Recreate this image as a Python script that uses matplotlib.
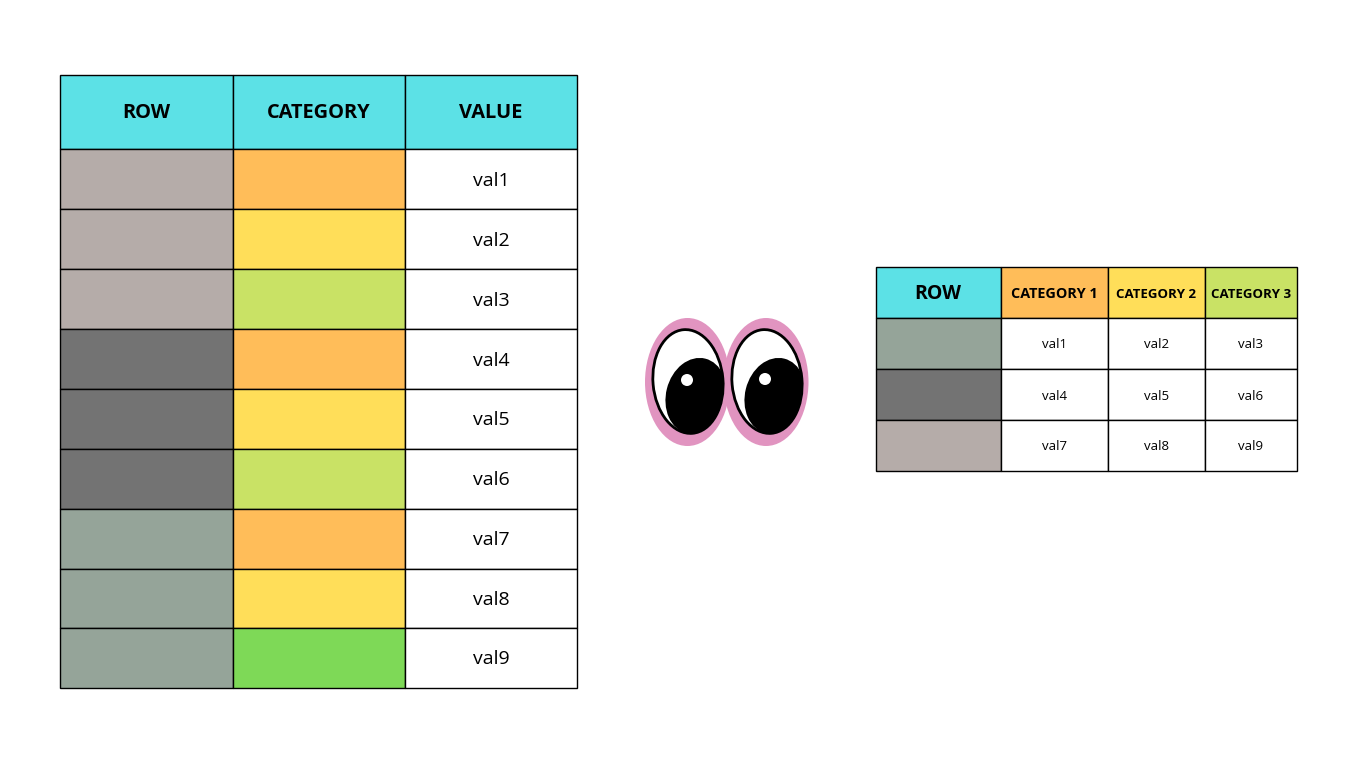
import matplotlib
matplotlib.use("Agg")
import matplotlib.pyplot as plt
from matplotlib.patches import Rectangle, Ellipse

# long table content
long_headers = ["ROW", "CATEGORY", "VALUE"]
long_row_groups = ["c", "c", "c", "b", "b", "b", "a", "a", "a"]
long_categories = ["cat1", "cat2", "cat3", "cat1", "cat2", "cat3", "cat1", "cat2", "cat3b"]
long_values = ["val1", "val2", "val3", "val4", "val5", "val6", "val7", "val8", "val9"]

# wide table content
wide_headers = ["ROW", "CATEGORY 1", "CATEGORY 2", "CATEGORY 3"]
wide_header_keys = ["head", "cat1", "cat2", "cat3"]
wide_row_groups = ["a", "b", "c"]
wide_values = [["val1", "val2", "val3"], ["val4", "val5", "val6"], ["val7", "val8", "val9"]]

# colours
CYAN = "#5ce1e6"
WHITE = "#ffffff"
COLORS = {
    "head": CYAN,
    "cat1": "#ffbd59",
    "cat2": "#ffde59",
    "cat3": "#c9e265",
    "cat3b": "#7ed957",
    "a": "#95a499",
    "b": "#737373",
    "c": "#b5aca9",
}

# layout, in pixels of the 1358x764 picture
long_col_edges = [60, 232.5, 405, 577]
long_row_edges = [75, 149, 209, 269, 329, 389, 448.5, 508.5, 568.5, 628, 688]
wide_col_edges = [876, 1000.5, 1108, 1204.5, 1297]
wide_row_edges = [267, 318, 369, 420, 470.5]
wide_header_sizes = [14, 10.4, 9.5, 9.5]

FONT = "Open Sans"


def cell(ax, x0, x1, y0, y1, color, text=None, size=14, weight="normal", shift=1.5):
    ax.add_patch(Rectangle((x0, y0), x1 - x0, y1 - y0, facecolor=color,
                           edgecolor="black", linewidth=1.0, zorder=2))
    if text:
        ax.text((x0 + x1) / 2, (y0 + y1) / 2 + shift, text, ha="center", va="center",
                fontsize=size, fontweight=weight, family=FONT, color="black", zorder=3)


def eye(ax, cx, white_cx, pupil_cx, glint_cx, glint_cy):
    ax.add_patch(Ellipse((cx, 382), 85, 128, facecolor="#e194c0", edgecolor="none", zorder=4))
    outline = Ellipse((white_cx, 381.5), 70, 104, angle=-5, facecolor=WHITE,
                      edgecolor="black", linewidth=2.0, zorder=5)
    ax.add_patch(outline)
    pupil = Ellipse((pupil_cx, 396), 60, 77, angle=14, facecolor="black",
                    edgecolor="none", zorder=6)
    ax.add_patch(pupil)
    pupil.set_clip_path(outline)
    ax.add_patch(Ellipse((glint_cx, glint_cy), 12, 12, facecolor=WHITE, edgecolor="none", zorder=7))


fig = plt.figure(figsize=(13.58, 7.64), dpi=100)
ax = fig.add_axes([0, 0, 1, 1])
ax.set_xlim(0, 1358)
ax.set_ylim(764, 0)
ax.axis("off")

# long table
for i, name in enumerate(long_headers):
    cell(ax, long_col_edges[i], long_col_edges[i + 1], long_row_edges[0], long_row_edges[1],
         CYAN, name, size=14.4, weight="bold")
for i, val in enumerate(long_values):
    y0, y1 = long_row_edges[i + 1], long_row_edges[i + 2]
    cell(ax, long_col_edges[0], long_col_edges[1], y0, y1, COLORS[long_row_groups[i]])
    cell(ax, long_col_edges[1], long_col_edges[2], y0, y1, COLORS[long_categories[i]])
    cell(ax, long_col_edges[2], long_col_edges[3], y0, y1, WHITE, val, size=14)

# wide table
for i, name in enumerate(wide_headers):
    cell(ax, wide_col_edges[i], wide_col_edges[i + 1], wide_row_edges[0], wide_row_edges[1],
         COLORS[wide_header_keys[i]], name, size=wide_header_sizes[i], weight="bold")
for r, row in enumerate(wide_values):
    y0, y1 = wide_row_edges[r + 1], wide_row_edges[r + 2]
    cell(ax, wide_col_edges[0], wide_col_edges[1], y0, y1, COLORS[wide_row_groups[r]])
    for c, val in enumerate(row):
        cell(ax, wide_col_edges[c + 1], wide_col_edges[c + 2], y0, y1, WHITE, val, size=9.5)

# eyes
eye(ax, 687.5, 688, 696, 687, 380)
eye(ax, 766, 767, 775, 765, 379)

fig.savefig("out.png", dpi=100)
